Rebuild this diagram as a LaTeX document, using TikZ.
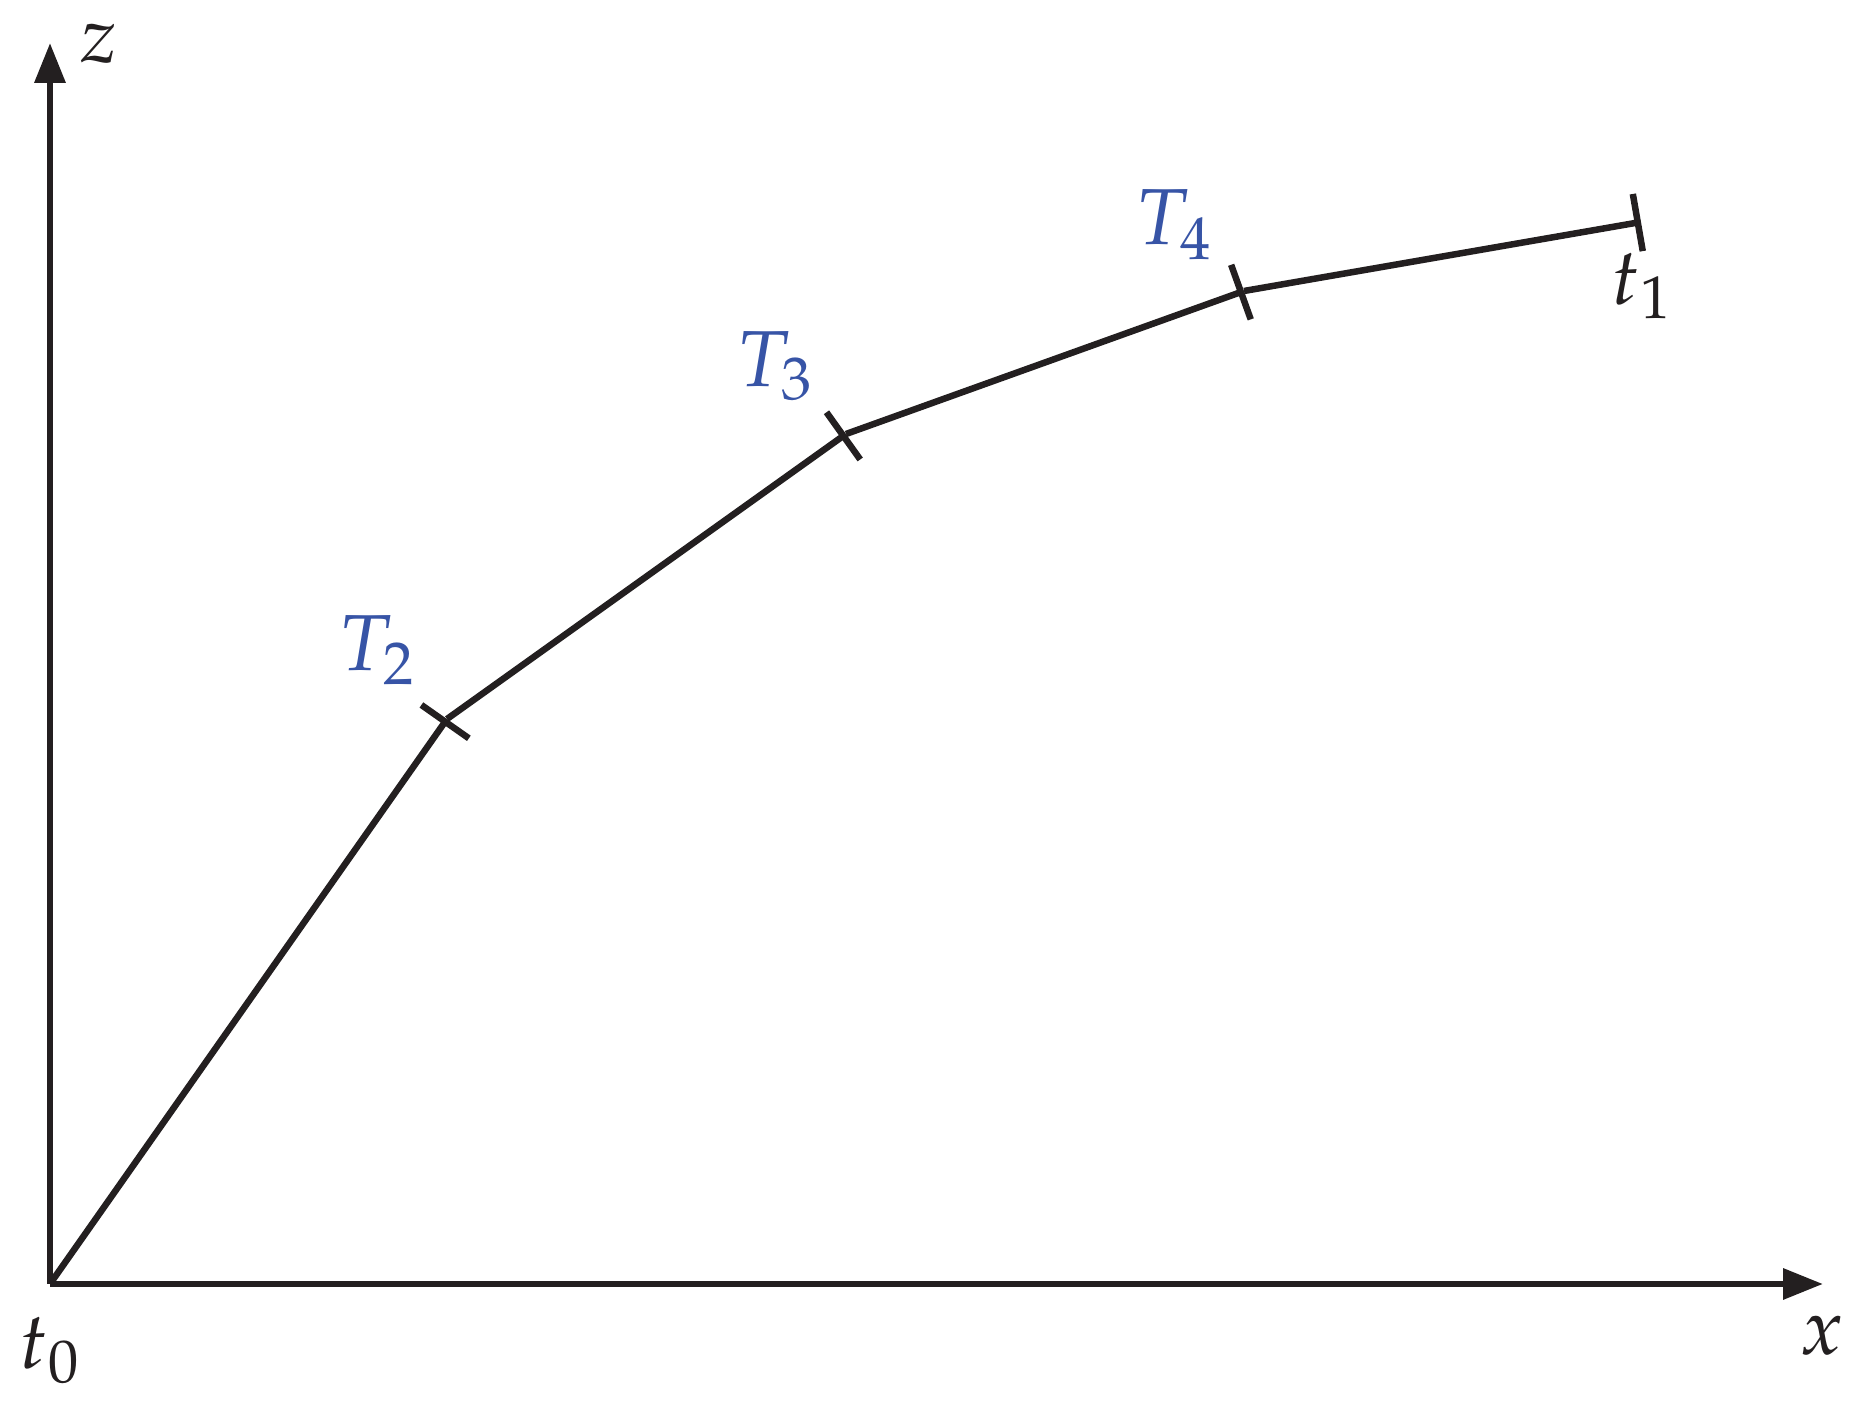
\documentclass[tikz,border=0pt]{standalone}
\usepackage{mathpazo}
\usetikzlibrary{arrows.meta,calc}
\definecolor{ink}{RGB}{35,31,32}
\definecolor{tblue}{RGB}{55,84,166}
\newcommand{\bl}[1]{\textcolor{tblue}{#1}}

\begin{document}
\begin{tikzpicture}[line width=1.85pt, color=ink, font=\fontsize{22.6}{27}\selectfont]
      \useasboundingbox (-0.5,-1.25) rectangle (18.14,12.84);
      \begin{scope}
        \def\tick{5.8mm}
        \coordinate (t0) at (0,0);
        \coordinate (T2) at (3.97,5.65);
        \coordinate (T3) at (7.96,8.50);
        \coordinate (T4) at (11.94,9.93);
        \coordinate (t1) at (15.91,10.62);
        \coordinate (ztip) at (0,12.41);
        \coordinate (xtip) at (17.73,0);

        \draw[-{Triangle[length=4mm,width=3mm]}] (t0) -- (ztip);
        \draw[-{Triangle[length=4mm,width=3mm]}] (t0) -- (xtip);
        \foreach \a/\b in {t0/T2,T2/T3,T3/T4,T4/t1}
          \draw[-{Bar[width=\tick]}] (\a) -- (\b);
      \end{scope}
      \node (zlab) at (0.495,12.40) {$z$};
      \node (xlab) at (17.72,-0.52) {$x$};
      \node (t0lab) at (0,-0.66) {$t_0$};
      \node (t1lab) at (15.92,9.98) {$t_1$};
      \node (T2lab) at (3.27,6.34) {\bl{$T_2$}};
      \node (T3lab) at (7.25,9.18) {\bl{$T_3$}};
      \node (T4lab) at (11.24,10.59) {\bl{$T_4$}};
    \end{tikzpicture}
\end{document}
